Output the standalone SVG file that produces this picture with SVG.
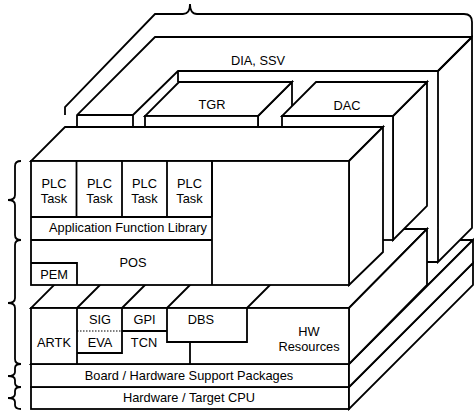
<svg xmlns="http://www.w3.org/2000/svg" width="474" height="411" viewBox="0 0 474 411">
<style>
.f{fill:#fff;stroke:#000;stroke-width:1.8;stroke-linejoin:miter}
.w{fill:#fff;stroke:none}
.l{fill:none;stroke:#000;stroke-width:1.8}
.d{fill:none;stroke:#000;stroke-width:1;stroke-dasharray:1.5 1.5}
text{font-family:"Liberation Sans",Arial,sans-serif;font-size:12.8px;text-anchor:middle;fill:#000}
</style>
<rect width="474" height="411" fill="#fff"/>

<g id="braces">
<path class="l" d="M65,115 V107 L155,14 H183 Q190,14 190,4 Q190,14 197,14 H464 Q472,14 472,22 V37"/>
<path class="l" d="M21,161 Q15,161 15,166 V195 Q15,200 8,200 Q15,200 15,205 V235 Q15,240 21,240"/>
<path class="l" d="M21,240 Q15,240 15,245 V298 Q15,303 8,303 Q15,303 15,308 V359 Q15,364 21,364"/>
<path class="l" d="M21,364 Q15,364 15,368 V372 Q15,376 8,376 Q15,376 15,380 V383 Q15,387 21,387"/>
<path class="l" d="M21,387 Q15,387 15,391 V394 Q15,398 8,398 Q15,398 15,402 V405 Q15,409 21,409"/>
</g>

<g id="hw-cpu">
<rect class="f" x="31" y="387" width="318" height="22"/>
<polygon class="f" points="349,387 473,263 473,285 349,409"/>
<text x="189" y="402">Hardware / Target CPU</text>
</g>

<g id="board-bsp">
<polygon class="f" points="31,364 349,364 473,240 155,240"/>
<rect class="f" x="31" y="364" width="318" height="23"/>
<polygon class="f" points="349,364 473,240 473,263 349,387"/>
<text x="189" y="380">Board / Hardware Support Packages</text>
</g>

<g id="dia-ssv">
<polygon class="w" points="427,71 438,71 438,262 427,262"/>
<polygon class="f" points="438,71 472,37 472,228 438,262"/>
<path class="l" d="M77,127 V115 L155,37 H472 M472,37 L438,71 H178 L133,115 V127 M77,115 H133 M427,262 H438 M178,71 V82"/>
<text x="258" y="65">DIA, SSV</text>
</g>

<g id="rt-layer">
<polygon class="f" points="31,308 349,308 427,229 110,229"/>
<polygon class="f" points="349,308 427,229 427,285 349,364"/>
<rect class="f" x="31" y="308" width="318" height="56"/>
<path class="l" d="M77,308 L156,229 M122,308 L201,229 M167,308 L246,229 M247,308 L326,229"/>
</g>
<g id="artk"><path class="l" d="M77,308 V364"/><text x="54" y="347">ARTK</text></g>
<g id="sig"><path class="l" d="M122,308 V353 H77"/><path class="d" d="M77,331 H122"/><text x="100" y="324">SIG</text></g>
<g id="eva"><text x="100" y="347">EVA</text></g>
<g id="gpi"><path class="l" d="M122,331 H167"/><text x="144.5" y="324">GPI</text></g>
<g id="tcn"><path class="l" d="M190,342 V364"/><text x="144" y="347">TCN</text></g>
<g id="dbs"><path class="l" d="M167,308 V342 H247 V308"/><text x="201" y="324">DBS</text></g>
<g id="hw-resources"><text x="309" y="336">HW</text><text x="309" y="351">Resources</text></g>

<g id="tgr">
<polygon class="f" points="292,82 292,130 258,130 258,116"/>
<polygon class="f" points="179,82 292,82 258,116 145,116"/>
<rect class="f" x="145" y="116" width="113" height="14"/>
<text x="212" y="109">TGR</text>
</g>

<g id="dac">
<polygon class="f" points="393,116 427,82 427,206 393,240"/>
<rect class="f" x="282" y="116" width="111" height="124"/>
<polygon class="f" points="316,82 427,82 393,116 282,116"/>
<text x="347" y="110">DAC</text>
</g>

<g id="plc-block">
<polygon class="f" points="31,161 349,161 383,127 65,127"/>
<polygon class="f" points="349,161 383,127 383,252 349,285"/>
<rect class="f" x="31" y="161" width="318" height="124"/>
</g>
<g id="plc-task-1"><path class="l" d="M76.5,161 V217"/><text x="54" y="188">PLC</text><text x="54" y="203">Task</text></g>
<g id="plc-task-2"><path class="l" d="M122,161 V217"/><text x="99.5" y="188">PLC</text><text x="99.5" y="203">Task</text></g>
<g id="plc-task-3"><path class="l" d="M167,161 V217"/><text x="144.5" y="188">PLC</text><text x="144.5" y="203">Task</text></g>
<g id="plc-task-4"><path class="l" d="M212,161 V217"/><text x="189.5" y="188">PLC</text><text x="189.5" y="203">Task</text></g>
<g id="afl"><path class="l" d="M31,217 H212 M31,240 H212 M212,161 V285"/><text x="128" y="232">Application Function Library</text></g>
<g id="pos"><text x="133" y="267">POS</text></g>
<g id="pem"><path class="l" d="M31,263 H77 V285"/><text x="54" y="279">PEM</text></g>
</svg>
